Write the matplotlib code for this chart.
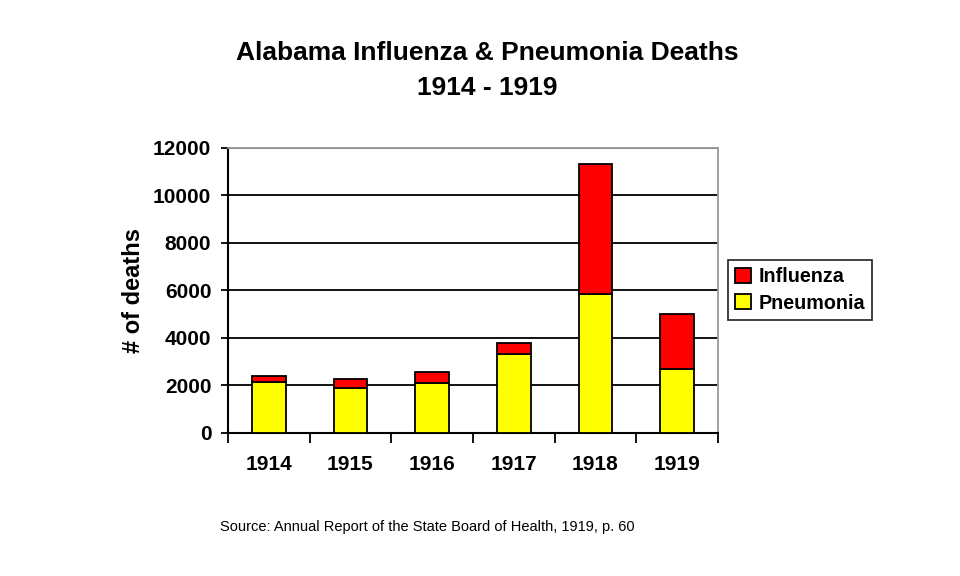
import matplotlib
matplotlib.use("Agg")
import matplotlib.pyplot as plt
import numpy as np

plt.rcParams["font.family"] = ["Liberation Sans", "DejaVu Sans"]

years = ["1914", "1915", "1916", "1917", "1918", "1919"]
pneumonia = [2150, 1910, 2090, 3340, 5850, 2690]
influenza = [250, 380, 490, 430, 5480, 2340]

fig = plt.figure(figsize=(9.6, 5.76), dpi=100)
ax = fig.add_axes([0.2375, 0.2483, 0.5104, 0.4948])

x = np.arange(len(years))
ax.bar(x, pneumonia, width=0.41, color="#ffff00", edgecolor="black", linewidth=1.3,
       label="Pneumonia", zorder=3)
ax.bar(x, influenza, bottom=pneumonia, width=0.41, color="#ff0000", edgecolor="black",
       linewidth=1.3, label="Influenza", zorder=3)

ax.set_xlim(-0.5, len(years) - 0.5)
ax.set_ylim(0, 12000)
ax.set_yticks(range(0, 12001, 2000))
ax.yaxis.grid(True, color="black", linewidth=1.3, zorder=0)

# category labels centred, tick marks on the category boundaries
ax.set_xticks(x)
ax.set_xticklabels(years, fontsize=15, fontweight="bold")
ax.tick_params(axis="x", which="major", length=0, pad=16)
ax.set_xticks(np.arange(-0.5, len(years), 1), minor=True)
ax.tick_params(axis="x", which="minor", length=7, width=1.3, direction="out")
ax.tick_params(axis="y", length=5, width=1.3, labelsize=15, pad=7)
for lab in ax.get_yticklabels():
    lab.set_fontweight("bold")

for side in ["top", "right"]:
    ax.spines[side].set_color("#999999")
    ax.spines[side].set_linewidth(1.3)
for side in ["left", "bottom"]:
    ax.spines[side].set_color("black")
    ax.spines[side].set_linewidth(1.5)

ax.set_ylabel("# of deaths", fontsize=17, fontweight="bold", labelpad=6)

handles, labels = ax.get_legend_handles_labels()
leg = fig.legend(handles[::-1], labels[::-1], loc="upper left",
                 bbox_to_anchor=(728 / 960, 1 - 260 / 576), fontsize=14.2,
                 frameon=True, fancybox=False, edgecolor="black",
                 handlelength=0.8, handleheight=0.8, handletextpad=0.4,
                 borderpad=0.35, labelspacing=0.4, borderaxespad=0)
leg.get_frame().set_linewidth(1.3)
for t in leg.get_texts():
    t.set_fontweight("bold")

fig.text(0.508, 1 - 53 / 576, "Alabama Influenza & Pneumonia Deaths", ha="center",
         va="center", fontsize=19, fontweight="bold")
fig.text(0.508, 1 - 88 / 576, "1914 - 1919", ha="center", va="center",
         fontsize=19, fontweight="bold")
fig.text(220 / 960, 1 - 527 / 576, "Source: Annual Report of the State Board of Health, 1919, p. 60",
         ha="left", va="center", fontsize=10.5)

fig.savefig("out.png", dpi=100)
